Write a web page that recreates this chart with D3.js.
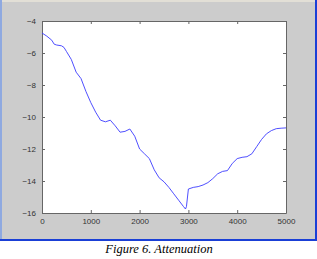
<!DOCTYPE html>
<html><head><meta charset="utf-8">
<script src="https://cdn.jsdelivr.net/npm/d3@7"></script>
<style>html,body{margin:0;padding:0;background:#fff;}svg{display:block;}</style>
</head><body>
<script>
const xValues = [0,100,200,250,300,400,450,500,600,700,800,900,1000,1100,1200,1300,1400,1500,1600,1700,1800,1900,2000,2100,2200,2300,2400,2500,2600,2700,2800,2900,2940,2960,3000,3100,3200,3300,3400,3500,3600,3700,3800,3900,4000,4100,4200,4300,4400,4500,4600,4700,4800,4900,5000];
const attenuation = [-4.75,-4.95,-5.2,-5.45,-5.5,-5.55,-5.65,-5.9,-6.4,-7.2,-7.6,-8.4,-9.1,-9.7,-10.2,-10.3,-10.2,-10.55,-10.95,-10.9,-10.75,-11.2,-12.0,-12.3,-12.6,-13.3,-13.8,-14.05,-14.4,-14.8,-15.2,-15.6,-15.75,-15.6,-14.5,-14.4,-14.35,-14.25,-14.1,-13.85,-13.55,-13.4,-13.35,-12.9,-12.6,-12.52,-12.48,-12.3,-11.85,-11.4,-11.05,-10.85,-10.73,-10.7,-10.68];
const xTicks = [0,1000,2000,3000,4000,5000];
const yTicks = [-4,-6,-8,-10,-12,-14,-16];
const caption = "Figure 6. Attenuation";

const W = 317, H = 259;
const svg = d3.select("body").append("svg").attr("width", W).attr("height", H);

// window frame
svg.append("rect").attr("x",0).attr("y",0).attr("width",317).attr("height",241).attr("fill","#cccccc");
svg.append("rect").attr("x",0).attr("y",0).attr("width",317).attr("height",2).attr("fill","#e2dfd6");
svg.append("rect").attr("x",0).attr("y",0).attr("width",2).attr("height",241).attr("fill","#8fa9e0");
svg.append("rect").attr("x",315).attr("y",0).attr("width",2).attr("height",241).attr("fill","#1a3fd6");
svg.append("rect").attr("x",0).attr("y",239).attr("width",317).attr("height",2).attr("fill","#1a3fd6");

const L = 42, R = 286, T = 21, B = 213;
const x = d3.scaleLinear().domain([0,5000]).range([L,R]);
const y = d3.scaleLinear().domain([-16,-4]).range([B,T]);

svg.append("rect").attr("x",L).attr("y",T).attr("width",R-L).attr("height",B-T).attr("fill","#fff");

const axColor = "#666";
const font = "Arial, 'Liberation Sans', sans-serif";

function styleAxis(g, showLabels){
  g.select(".domain").attr("stroke", axColor);
  g.selectAll(".tick line").attr("stroke", axColor);
  g.selectAll(".tick text").attr("fill", "#333").attr("font-family", font).attr("font-size", 8);
  if(!showLabels) g.selectAll(".tick text").remove();
}

svg.append("g").attr("transform",`translate(0,${B})`)
  .call(d3.axisBottom(x).tickValues(xTicks).tickSize(-3).tickSizeOuter(0).tickPadding(5).tickFormat(d3.format("d")))
  .call(g=>styleAxis(g,true));
svg.append("g").attr("transform",`translate(0,${T})`)
  .call(d3.axisTop(x).tickValues(xTicks).tickSize(-3).tickSizeOuter(0))
  .call(g=>styleAxis(g,false));
svg.append("g").attr("transform",`translate(${L},0)`)
  .call(d3.axisLeft(y).tickValues(yTicks).tickSize(-3).tickSizeOuter(0).tickPadding(6).tickFormat(d3.format("d")))
  .call(g=>styleAxis(g,true));
svg.append("g").attr("transform",`translate(${R},0)`)
  .call(d3.axisRight(y).tickValues(yTicks).tickSize(-3).tickSizeOuter(0))
  .call(g=>styleAxis(g,false));

const data = xValues.map((d,i)=>[d, attenuation[i]]);
svg.append("path").datum(data)
  .attr("fill","none").attr("stroke","#3b3bff").attr("stroke-width",0.9)
  .attr("d", d3.line().x(d=>x(d[0])).y(d=>y(d[1])));

svg.append("text").attr("x",159).attr("y",253).attr("text-anchor","middle")
  .attr("font-family","'Liberation Serif','Times New Roman',serif").attr("font-style","italic")
  .attr("font-size",12.5).attr("fill","#000").text(caption);
</script>
</body></html>
